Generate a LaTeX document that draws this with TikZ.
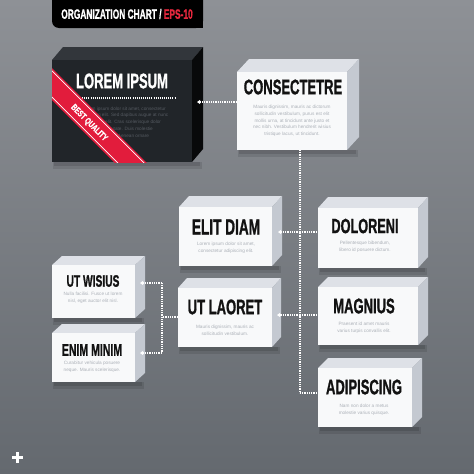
\documentclass[tikz,border=0pt]{standalone}
\usepackage{fontspec}
\setmainfont{Liberation Sans}
\newfontfamily\headfont{Liberation Sans}[BoldFeatures={FakeBold=1.4}]
\usetikzlibrary{arrows.meta}
\definecolor{bgtop}{RGB}{142,145,150}
\definecolor{bgbot}{RGB}{100,105,111}
\definecolor{ribred}{RGB}{226,28,60}
\definecolor{lightfront}{RGB}{248,249,250}
\definecolor{lighttop}{RGB}{222,225,231}
\definecolor{lightside}{RGB}{196,201,209}
\definecolor{darkfront}{RGB}{33,37,41}
\definecolor{darktop}{RGB}{50,54,59}
\definecolor{darkside}{RGB}{8,9,10}
\definecolor{bodygray}{RGB}{172,177,184}
\definecolor{bodydark}{RGB}{84,89,96}
\definecolor{titleink}{RGB}{18,18,18}
\definecolor{epsred}{RGB}{230,40,62}
% #1 name, #2 x1, #3 y1, #4 x2, #5 y2, #6 dx, #7 dy, #8 colour prefix
\newcommand\orgbox[8]{%
  \fill[black,opacity=0.10] (#2+1,#5) rectangle (#4+#6-1,#5+7);
  \fill[black,opacity=0.12] (#2+2,#5) rectangle (#4+#6-3,#5+4);
  \fill[#8top] (#2,#3) -- (#2+#6,#3-#7) -- (#4+#6,#3-#7) -- (#4,#3) -- cycle;
  \fill[#8side] (#4,#3) -- (#4+#6,#3-#7) -- (#4+#6,#5-#7) -- (#4,#5) -- cycle;
  \node[fill=#8front, inner sep=0pt, outer sep=0pt, minimum width={#4-#2},
        minimum height={#5-#3}, anchor=north west] (#1) at (#2,#3) {};
}
\tikzset{
  ttl/.style={inner sep=0pt, text=titleink, xscale=0.62, transform shape,
              font=\headfont\bfseries\fontsize{#1}{#1}\selectfont},
  body/.style={inner sep=0pt, text=bodygray, align=center, font=\fontsize{4.7}{6.7}\selectfont},
  conn/.style={white, line width=1.1pt, dash pattern=on 0.9pt off 0.9pt},
  arr/.style={conn, -{Triangle[length=3.2pt,width=4.2pt]}}
}
\begin{document}
\begin{tikzpicture}[x=1pt,y=-1pt]
\useasboundingbox (0,0) rectangle (474,474);
\shade[top color=bgtop, bottom color=bgbot] (0,0) rectangle (474,474);

% header tab
\fill[black, rounded corners=7pt] (52,-12) rectangle (203,28);
\fill[black] (190,-2) rectangle (203,28);
\node[ttl=13.5, text=white] (hdr) at (127,14)
  {ORGANIZATION CHART / \textcolor{epsred}{EPS-10}};

% boxes
\orgbox{lorem}{52}{60}{192}{162}{11}{13}{dark}
\orgbox{cons}{237}{72}{347}{150}{12}{13}{light}
\orgbox{elit}{179}{207}{272}{266}{10}{11}{light}
\orgbox{dolo}{318}{208}{418}{268}{10}{11}{light}
\orgbox{utl}{178}{288}{272}{347}{9}{10}{light}
\orgbox{magn}{318}{287}{418}{345}{10}{10}{light}
\orgbox{adip}{318}{368}{412}{427}{10}{10}{light}
\orgbox{utw}{52}{265}{135}{318}{10}{9}{light}
\orgbox{enim}{52}{333}{135}{382}{10}{9}{light}

% lorem box content
\node[ttl=21, text=white] (loremt) at (122,81) {LOREM IPSUM};
\draw[white, line width=1.2pt, dash pattern=on 1pt off 1.1pt] (80,98) -- (176,98);
\node[body, text=bodydark] (loremb) at (124,122)
  {Lorem ipsum dolor sit amet, consectetur\\adipiscing elit. Sed dapibus augue at nunc\\posuere elit. Cras scelerisque dolor\\vel vulputate. Duis molestie\\ultricies. Aenean ornare};
\begin{scope}
  \clip (52,60) rectangle (192,162);
  \fill[ribred] (40,56) -- (170,186) -- (170,218) -- (40,88) -- cycle;
  \draw[white, line width=0.7pt] (40,58.8) -- (170,188.8);
  \draw[white, line width=0.7pt] (40,85.2) -- (170,215.2);
  \node[inner sep=0pt, text=white, rotate=-45, xscale=0.72, transform shape,
        font=\headfont\bfseries\fontsize{9}{9}\selectfont] (ribt) at (89,123) {BEST QUALITY};
\end{scope}

% titles and texts
\node[ttl=21] (const) at (293,87) {CONSECTETRE};
\node[body] (consb) at (292,121) {Mauris dignissim, mauris ac dictorum\\sollicitudin vestibulum, purus est elit\\mollis urna, at tincidunt ante justo et\\nec nibh. Vestibulum hendrerit wisius\\tristique lacus, ut tincidunt.};

\node[ttl=22] (elitt) at (226,227) {ELIT DIAM};
\node[body] (elitb) at (226,248) {Lorem ipsum dolor sit amet,\\consectetur adipiscing elit.};

\node[ttl=20.5] (dolot) at (365,226) {DOLORENI};
\node[body] (dolob) at (365,247) {Pellentesque bibendum,\\libero id posuere dictum.};

\node[ttl=21] (utlt) at (225,307) {UT LAORET};
\node[body] (utlb) at (225,330) {Mauris dignissim, mauris ac\\sollicitudin vestibulum.};

\node[ttl=21] (magnt) at (364,306) {MAGNIUS};
\node[body] (magnb) at (364,328) {Praesent id amet mauris\\varius turpis convallis elit.};

\node[ttl=21] (adipt) at (364,387) {ADIPISCING};
\node[body] (adipb) at (364,410) {Nam non dolor a metus\\molestie varius quisque.};

\node[ttl=16.5] (utwt) at (93,281) {UT WISIUS};
\node[body] (utwb) at (93,297.5) {Nulla facilisi. Fusce ut lorem\\nisl, eget auctor elit nisl.};

\node[ttl=17] (enimt) at (92,350) {ENIM MINIM};
\node[body] (enimb) at (92,366.5) {Curabitur vehicula posuere\\neque. Mauris scelerisque.};

% connectors
\coordinate (ta) at (300,150);
\coordinate (tb) at (300,232);
\coordinate (tc) at (300,315);
\coordinate (td) at (300,393);
\coordinate (lj) at (162,317);
\draw[conn] (ta) -- (td);
\draw[arr] (cons.west |- 0,102) -- ([xshift=5pt]lorem.east |- 0,102);
\draw[arr] (tb) -- ([xshift=6pt]elit.east |- tb);
\draw[conn] (tb) -- (dolo.west |- tb);
\draw[arr] (tc) -- ([xshift=5pt]utl.east |- tc);
\draw[conn] (tc) -- (magn.west |- tc);
\draw[conn] (td) -- (adip.west |- td);
\draw[conn] (utl.west |- lj) -- (lj);
\draw[conn] (lj |- 0,283) -- (lj |- 0,353);
\draw[arr] (lj |- 0,283) -- ([xshift=5pt]utw.east |- 0,283);
\draw[arr] (lj |- 0,353) -- ([xshift=5pt]enim.east |- 0,353);

% plus sign
\coordinate (plus) at (17.5,457.5);
\draw[white, line width=2.6pt] ([xshift=-5.5pt]plus) -- ([xshift=5.5pt]plus);
\draw[white, line width=2.6pt] ([yshift=-5.5pt]plus) -- ([yshift=5.5pt]plus);
\end{tikzpicture}
\end{document}
